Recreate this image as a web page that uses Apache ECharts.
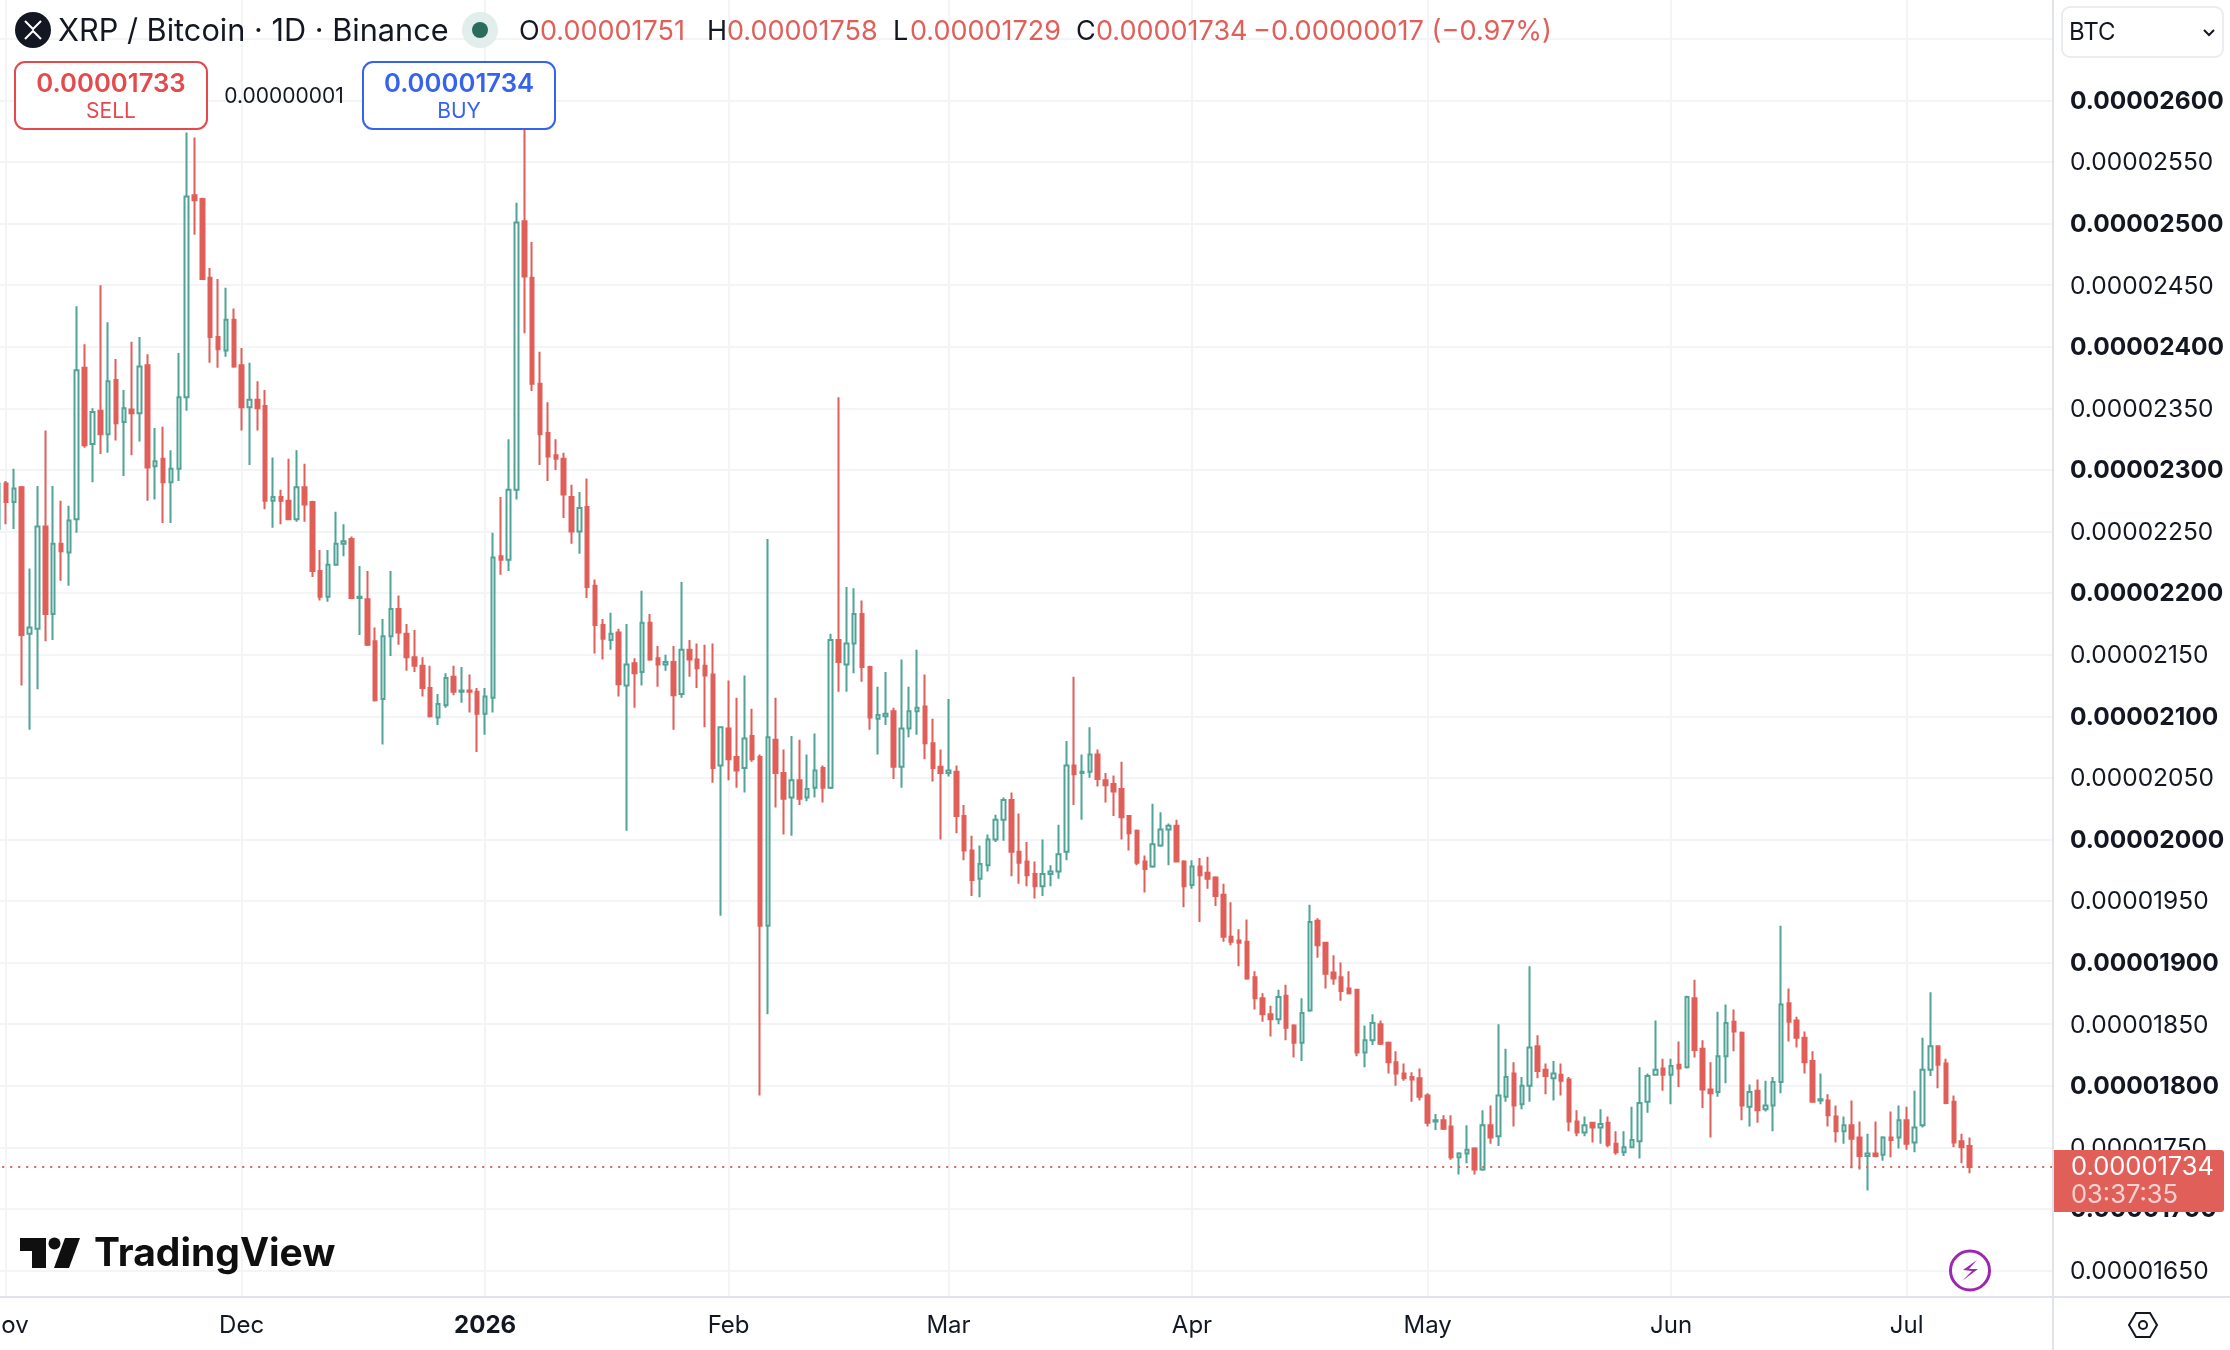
<!DOCTYPE html>
<html>
<head>
<meta charset="utf-8">
<title>XRP / Bitcoin</title>
<style>html,body{margin:0;padding:0;background:#fff}#chart{width:2230px;height:1350px}</style>
<script src="https://cdn.jsdelivr.net/npm/echarts@6/dist/echarts.min.js"></script>
</head>
<body>
<div id="chart"></div>
<script>
// Daily XRP/BTC candles, prices in satoshi (1e-8 BTC), first session 2025-10-31.
const firstSession = '2025-10-31';
const emptyDaysAfterLast = 10;
const opens = [2252,2289,2274,2286,2167,2171,2254,2183,2240,2233,
2260,2383,2321,2348,2329,2373,2339,2349,2346,2385,
2303,2309,2290,2301,2359,2523,2520,2456,2408,2397,
2422,2385,2351,2357,2352,2275,2278,2275,2260,2286,
2274,2218,2197,2223,2240,2244,2196,2195,2161,2114,
2165,2187,2167,2148,2141,2123,2099,2109,2132,2120,
2121,2120,2102,2115,2230,2227,2284,2502,2456,2370,
2330,2312,2309,2278,2250,2270,2206,2174,2162,2168,
2125,2143,2136,2176,2147,2142,2144,2118,2154,2146,
2141,2134,2060,2090,2067,2058,2084,2067,1930,2081,
2054,2034,2048,2034,2042,2058,2042,2162,2142,2159,
2183,2140,2098,2100,2104,2059,2090,2104,2108,2078,
2059,2054,2055,2019,1991,1968,1979,2000,2016,2032,
1990,1982,1972,1962,1972,1974,1990,2060,2054,2055,
2069,2048,2045,2041,2019,2007,1982,1978,1995,2008,
2011,1982,1963,1978,1973,1969,1955,1921,1918,1917,
1888,1871,1858,1854,1873,1849,1835,1861,1934,1916,
1892,1888,1879,1878,1827,1837,1850,1835,1819,1810,
1807,1806,1792,1771,1772,1767,1742,1745,1749,1732,
1768,1759,1791,1810,1785,1800,1832,1813,1806,1809,
1805,1771,1762,1770,1766,1770,1753,1746,1750,1755,
1787,1809,1814,1809,1817,1815,1871,1830,1797,1795,
1824,1852,1843,1783,1796,1781,1784,1803,1867,1853,
1839,1820,1788,1788,1775,1763,1768,1758,1743,1745,
1744,1758,1758,1772,1754,1768,1813,1832,1818,1787,
1755,1751];
const closes = [2289,2274,2285,2166,2172,2254,2183,2240,2234,2259,
2381,2320,2347,2329,2372,2338,2350,2346,2384,2302,
2307,2290,2301,2359,2522,2519,2455,2408,2398,2422,
2384,2351,2357,2350,2275,2278,2275,2260,2286,2272,
2218,2197,2223,2240,2242,2196,2197,2158,2113,2165,
2187,2168,2148,2141,2123,2100,2110,2131,2120,2121,
2120,2102,2116,2229,2227,2284,2501,2457,2370,2329,
2311,2309,2280,2250,2269,2205,2174,2163,2167,2126,
2142,2135,2176,2146,2142,2144,2117,2154,2146,2139,
2133,2058,2091,2065,2056,2082,2065,1930,2083,2054,
2033,2048,2033,2041,2056,2042,2162,2144,2159,2183,
2140,2099,2101,2102,2059,2090,2104,2107,2078,2058,
2054,2056,2019,1991,1967,1980,2000,2016,2032,1990,
1981,1971,1962,1972,1974,1988,2060,2053,2055,2069,
2049,2044,2039,2018,2005,1981,1976,1996,2008,2011,
1982,1962,1978,1971,1968,1954,1921,1917,1916,1887,
1871,1858,1854,1872,1847,1835,1859,1933,1914,1891,
1887,1877,1875,1827,1837,1851,1834,1819,1810,1806,
1805,1791,1770,1772,1765,1742,1745,1748,1732,1768,
1758,1792,1807,1784,1800,1831,1812,1808,1810,1804,
1771,1762,1768,1766,1769,1752,1746,1750,1756,1786,
1808,1813,1809,1816,1814,1872,1829,1797,1794,1824,
1851,1844,1784,1795,1780,1784,1803,1866,1852,1839,
1819,1787,1789,1776,1763,1768,1757,1743,1745,1743,
1758,1756,1772,1753,1766,1813,1832,1817,1786,1754,
1750,1734];
const highs = [2289,2291,2301,2287,2220,2287,2332,2287,2275,2271,
2433,2402,2350,2450,2420,2390,2365,2404,2408,2394,
2334,2335,2316,2395,2574,2570,2521,2464,2455,2448,
2431,2399,2387,2372,2365,2310,2284,2309,2316,2305,
2275,2235,2235,2266,2256,2246,2222,2218,2172,2179,
2218,2198,2175,2170,2148,2141,2118,2135,2141,2140,
2134,2123,2123,2249,2278,2325,2517,2578,2485,2396,
2355,2325,2314,2288,2282,2293,2211,2179,2184,2171,
2175,2147,2202,2183,2157,2150,2157,2209,2162,2159,
2158,2159,2091,2129,2115,2133,2106,2069,2244,2115,
2073,2084,2081,2069,2086,2060,2167,2359,2205,2204,
2194,2141,2124,2136,2107,2146,2124,2154,2134,2098,
2073,2114,2060,2028,2003,1995,2004,2020,2034,2038,
2021,1998,1982,2000,1979,2012,2080,2132,2069,2091,
2073,2054,2052,2063,2019,2008,1987,2029,2022,2013,
2016,1983,1983,1985,1986,1970,1964,1949,1927,1935,
1893,1875,1865,1878,1882,1850,1871,1947,1936,1917,
1906,1900,1893,1878,1849,1858,1853,1836,1828,1818,
1811,1814,1794,1777,1776,1776,1746,1768,1750,1780,
1784,1850,1830,1819,1807,1897,1841,1818,1820,1818,
1807,1780,1775,1770,1781,1775,1763,1763,1783,1815,
1810,1853,1822,1822,1836,1873,1886,1837,1819,1860,
1866,1862,1844,1801,1805,1804,1807,1930,1879,1856,
1844,1828,1810,1793,1784,1775,1788,1771,1761,1771,
1759,1779,1784,1783,1796,1839,1876,1832,1822,1792,
1761,1758];
const lows = [2252,2256,2252,2125,2089,2122,2161,2162,2210,2206,
2249,2318,2290,2313,2314,2324,2295,2312,2323,2275,
2276,2257,2257,2291,2348,2491,2455,2387,2383,2392,
2383,2332,2304,2332,2268,2253,2256,2260,2258,2258,
2213,2194,2193,2223,2230,2195,2166,2157,2112,2077,
2149,2158,2137,2136,2116,2099,2093,2107,2117,2111,
2103,2071,2085,2103,2215,2218,2276,2411,2364,2304,
2291,2300,2261,2240,2232,2196,2151,2146,2154,2116,
2007,2107,2125,2145,2124,2137,2089,2115,2132,2123,
2091,2046,1938,2048,2042,2038,2063,1792,1858,2026,
2004,2003,2028,2031,2034,2030,2041,2120,2120,2135,
2128,2089,2069,2093,2049,2042,2083,2085,2065,2047,
2000,2051,2005,1983,1954,1953,1974,1998,1999,1970,
1964,1962,1952,1954,1962,1968,1983,2028,2016,2050,
2043,2030,2019,2000,1991,1979,1957,1977,1994,1979,
1982,1945,1960,1933,1960,1946,1917,1914,1897,1886,
1862,1852,1840,1850,1837,1823,1820,1860,1904,1879,
1882,1869,1874,1824,1815,1833,1833,1810,1800,1804,
1787,1788,1767,1764,1764,1740,1728,1737,1728,1731,
1753,1751,1787,1767,1781,1787,1806,1793,1788,1792,
1763,1759,1759,1754,1753,1750,1744,1743,1750,1741,
1778,1809,1796,1785,1799,1814,1823,1782,1758,1791,
1802,1828,1772,1767,1770,1779,1763,1794,1836,1831,
1810,1787,1785,1767,1754,1753,1733,1732,1715,1742,
1739,1742,1749,1748,1746,1766,1808,1798,1785,1750,
1737,1729];

// Time-scale labels, keyed by the session they sit under.
const monthTicks = {
  '2025-11-01': 'Nov', '2025-12-01': 'Dec', '2026-01-01': '2026', '2026-02-01': 'Feb',
  '2026-03-01': 'Mar', '2026-04-01': 'Apr', '2026-05-01': 'May', '2026-06-01': 'Jun', '2026-07-01': 'Jul'
};

const priceMin = 1600, priceMax = 2700, priceStep = 50;
const lastPrice = closes[closes.length - 1];
const bidPrice = 1733;
const spread = 1;
const UP = '#4FA397', DOWN = '#E05F59', INK = '#131722', GRID = '#F3F4F5', EDGE = '#E0E3EB';
const FONT = 'Inter, "Noto Sans", sans-serif';
const fmt = v => (v / 1e8).toFixed(8);

const sessions = [];
const startMs = Date.parse(firstSession + 'T00:00:00Z');
for (let i = 0; i < closes.length + emptyDaysAfterLast; i++) {
  sessions.push(new Date(startMs + i * 864e5).toISOString().slice(0, 10));
}
const candles = closes.map((c, i) => [opens[i], c, lows[i], highs[i]]);

const plot = { left: -5.78, width: 2057.78, right: 2052, axisY: 1297 };

const txt = (x, y, text, size, fill, weight, align) => ({
  type: 'text', z: 100, x, y,
  style: { text, fill, font: `${weight || 400} ${size}px ${FONT}`, textAlign: align || 'left', textVerticalAlign: 'middle' },
  silent: true
});
const box = (x, y, w, h, r, fill, stroke, lw) => ({
  type: 'rect', z: 99, shape: { x, y, width: w, height: h, r },
  style: { fill, stroke, lineWidth: lw || 0 }, silent: true
});
const seg = (x1, y1, x2, y2) => ({
  type: 'line', z: 98, shape: { x1, y1, x2, y2 }, style: { stroke: EDGE, lineWidth: 2 }, silent: true
});
const poly = (points, fill) => ({ type: 'polygon', z: 100, shape: { points }, style: { fill }, silent: true });
const wire = (points, stroke, lw, closed) => ({
  type: closed ? 'polygon' : 'polyline', z: 100, shape: { points },
  style: { stroke, lineWidth: lw, fill: closed ? 'none' : undefined }, silent: true
});
const disc = (cx, cy, r, fill, stroke, lw) => ({
  type: 'circle', z: 100, shape: { cx, cy, r }, style: { fill, stroke, lineWidth: lw || 0 }, silent: true
});

const overlay = [
  // pane borders
  seg(0, plot.axisY, 2230, plot.axisY),
  seg(plot.right + 1, 0, plot.right + 1, 1350),
  // symbol header
  disc(33, 30, 18, INK),
  wire([[25, 21], [33, 29], [41, 21]], '#fff', 2),
  wire([[25, 39], [33, 31], [41, 39]], '#fff', 2),
  txt(58, 32, 'XRP / Bitcoin · 1D · Binance', 30.7, INK),
  disc(480, 30, 18, '#E2EEEC'),
  disc(480, 30, 8, '#2B6B5C'),
  txt(519, 32, 'O', 27, INK),
  txt(540, 32, '0.00001751', 27, DOWN),
  txt(707, 32, 'H', 27, INK),
  txt(727, 32, '0.00001758', 27, DOWN),
  txt(893, 32, 'L', 27, INK),
  txt(910, 32, '0.00001729', 27, DOWN),
  txt(1076, 32, 'C', 27, INK),
  txt(1096, 32, fmt(lastPrice), 27, DOWN),
  txt(1253, 32, '−0.00000017 (−0.97%)', 27.2, DOWN),
  // order buttons
  box(15, 62, 192, 67, 10, '#fff', '#E5484D', 2),
  txt(111, 84, fmt(bidPrice), 25.7, '#E5484D', 600, 'center'),
  txt(111, 112, 'SELL', 21, '#E5484D', 400, 'center'),
  txt(284, 97, fmt(spread), 21, INK, 400, 'center'),
  box(363, 62, 192, 67, 10, '#fff', '#3563F0', 2),
  txt(459, 84, fmt(lastPrice), 25.7, '#3563F0', 600, 'center'),
  txt(459, 112, 'BUY', 21, '#3563F0', 400, 'center'),
  // currency selector
  box(2062, 7, 161, 50, 8, '#fff', '#EBECEE', 2),
  txt(2069, 33, 'BTC', 24, INK),
  wire([[2204, 30], [2209, 35], [2214, 30]], INK, 2),
  // live price tag
  { type: 'rect', z: 99, shape: { x: 2054, y: 1150, width: 170, height: 62, r: [0, 3, 3, 0] }, style: { fill: DOWN }, silent: true },
  txt(2071, 1167, fmt(lastPrice), 25.5, '#fff'),
  txt(2071, 1195, '03:37:35', 25.5, 'rgba(255,255,255,0.72)'),
  // wordmark
  poly([[20, 1238], [46, 1238], [46, 1268], [32, 1268], [32, 1251], [20, 1251]], '#0F0F0F'),
  disc(54.5, 1243.5, 6, '#0F0F0F'),
  poly([[65, 1238], [80, 1238], [69, 1268], [54, 1268]], '#0F0F0F'),
  txt(94, 1254, 'TradingView', 39, '#0F0F0F', 700),
  // replay badge and scale settings
  disc(1970, 1270.5, 19.5, '#fff', '#9C27B0', 3),
  poly([[1977, 1260], [1963, 1270], [1972, 1271], [1962, 1281], [1978, 1269], [1969, 1269]], '#9C27B0'),
  wire([[2129, 1325], [2136, 1313], [2150, 1313], [2157, 1325], [2150, 1337], [2136, 1337]], INK, 2, true),
  disc(2143, 1325, 4, 'none', INK, 2)
];

const isMonthStart = (i, v) => v in monthTicks;

const chart = echarts.init(document.getElementById('chart'), null, { renderer: 'canvas' });
chart.setOption({
  animation: false,
  backgroundColor: '#fff',
  grid: [
    // price pane: runs past the canvas so the 50-sat ticks stay on round numbers
    { left: plot.left, width: plot.width, top: -22.7, height: 1354.76, containLabel: false, outerBoundsMode: 'none' },
    // time pane: carries the vertical lines and month labels
    { left: plot.left, width: plot.width, top: 0, height: plot.axisY, containLabel: false, outerBoundsMode: 'none' }
  ],
  xAxis: [
    { type: 'category', gridIndex: 0, data: sessions, show: false, boundaryGap: true },
    {
      type: 'category', gridIndex: 1, data: sessions, boundaryGap: true,
      axisLine: { show: false }, axisTick: { show: false },
      splitLine: { show: true, alignWithLabel: true, interval: isMonthStart, lineStyle: { color: GRID, width: 2 } },
      axisLabel: {
        interval: isMonthStart, margin: 17, hideOverlap: false,
        formatter: v => {
          const t = monthTicks[v] || '';
          return /^\d{4}$/.test(t) ? `{y|${t}}` : t;
        },
        color: INK, fontFamily: FONT, fontSize: 24,
        rich: { y: { fontFamily: FONT, fontSize: 24, fontWeight: 700, color: INK } }
      }
    }
  ],
  yAxis: [
    {
      type: 'value', gridIndex: 0, position: 'right', min: priceMin, max: priceMax, interval: priceStep,
      axisLine: { show: false }, axisTick: { show: false },
      splitLine: { show: true, showMinLine: false, showMaxLine: false, lineStyle: { color: GRID, width: 2 } },
      axisLabel: {
        margin: 18, showMinLabel: false, showMaxLabel: false, hideOverlap: false, padding: [2, 0, 0, 0],
        formatter: v => (v % 100 === 0 ? `{b|${fmt(v)}}` : fmt(v)),
        color: INK, fontFamily: FONT, fontSize: 24.5,
        rich: { b: { fontFamily: FONT, fontSize: 24.5, fontWeight: 700, color: INK } }
      }
    },
    { type: 'value', gridIndex: 1, show: false, splitLine: { show: false }, min: 0, max: 1 }
  ],
  series: [{
    type: 'candlestick', xAxisIndex: 0, yAxisIndex: 0, data: candles, barWidth: 4,
    itemStyle: { color: 'rgba(255,255,255,0)', color0: DOWN, borderColor: UP, borderColor0: DOWN, borderWidth: 2 },
    markLine: {
      silent: true, symbol: 'none', animation: false, label: { show: false },
      lineStyle: { color: DOWN, type: [2, 6], width: 2 },
      data: [{ yAxis: lastPrice }]
    }
  }],
  graphic: overlay
});
</script>
</body>
</html>
